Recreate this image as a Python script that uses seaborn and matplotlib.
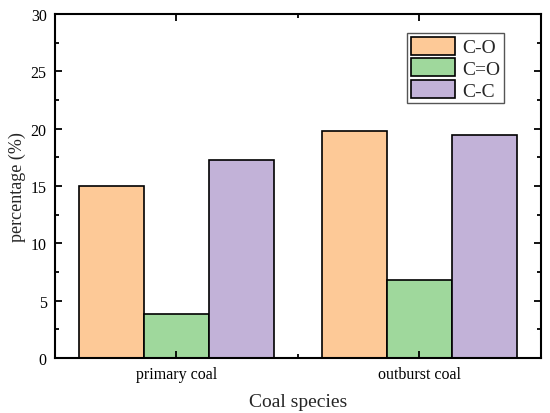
import matplotlib
matplotlib.use("Agg")
import matplotlib.pyplot as plt
from matplotlib.ticker import MultipleLocator, FixedLocator
import pandas as pd
import seaborn as sns

# valores
especies = ["primary coal", "outburst coal"]
ligacoes = ["C-O", "C=O", "C-C"]
c_o = [14.95, 19.83]
c_duplo_o = [3.80, 6.77]
c_c = [17.30, 19.45]

CORES = {"C-O": "#FDC997", "C=O": "#9FD89C", "C-C": "#C2B2D8"}

df = pd.DataFrame({
    "especie": especies * 3,
    "ligacao": [l for l in ligacoes for _ in especies],
    "valor": c_o + c_duplo_o + c_c,
})

sns.set_style("ticks")
plt.rcParams["font.family"] = ["Liberation Serif", "DejaVu Serif"]

fig = plt.figure(figsize=(5.5, 4.14), dpi=100)
ax = fig.add_axes([0.1, 0.133, 0.8836, 0.831])

sns.barplot(data=df, x="especie", y="valor", hue="ligacao", hue_order=ligacoes,
            order=especies, palette=CORES, edgecolor="black", linewidth=1.2,
            width=0.8, saturation=1, ax=ax)

# ticks por cima das barras, como no original
ax.set_axisbelow(False)
ax.xaxis.set_zorder(5)
ax.yaxis.set_zorder(5)
ax.set_xlim(-0.5, 1.5)
ax.set_ylim(0, 30)
ax.yaxis.set_major_locator(MultipleLocator(5))
ax.yaxis.set_minor_locator(MultipleLocator(2.5))
ax.xaxis.set_minor_locator(FixedLocator([0.5]))

for lado in ["top", "right", "bottom", "left"]:
    ax.spines[lado].set_visible(True)
    ax.spines[lado].set_linewidth(1.5)
    ax.spines[lado].set_color("black")
    ax.spines[lado].set_zorder(6)

ax.tick_params(which="both", direction="in", top=True, right=True, width=1.3, color="black")
ax.tick_params(which="major", length=5, labelsize=11.5, colors="black", pad=6)
ax.tick_params(which="minor", length=3)

ax.set_xlabel("Coal species", fontsize=14, labelpad=8)
ax.set_ylabel("percentage (%)", fontsize=13, labelpad=3)

ax.legend(loc="upper right", bbox_to_anchor=(0.924, 0.945), borderaxespad=0,
          fontsize=14, frameon=True, fancybox=False, edgecolor="#555555",
          framealpha=1, handlelength=2.3, handleheight=1.05, labelspacing=0.1,
          borderpad=0.2, handletextpad=0.35, title=None)

fig.savefig("out.png", dpi=100)
plt.close(fig)
